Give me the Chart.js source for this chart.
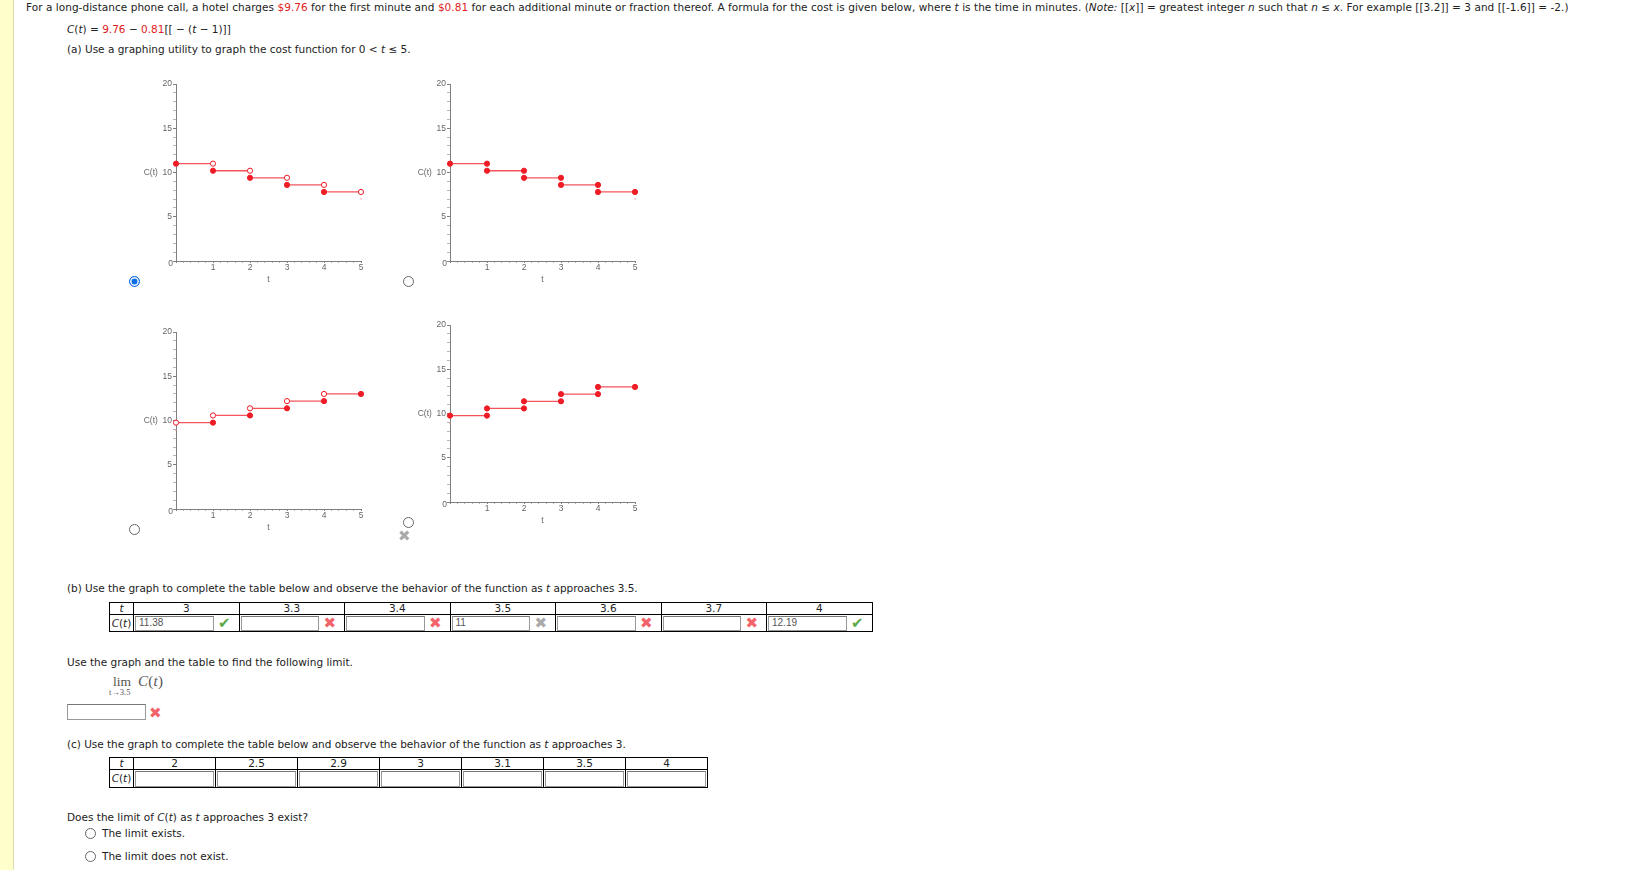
<!DOCTYPE html>
<html>
<head>
<meta charset="utf-8">
<title>Cost function</title>
<script src="https://cdn.jsdelivr.net/npm/chart.js@4"></script>
<style>
html, body { margin: 0; padding: 0; background: #fff; }
body { position: relative; width: 1645px; height: 870px; overflow: hidden; font-family: "DejaVu Sans", sans-serif; font-size: 10.5px; color: #222; }
.band { position: absolute; left: 0; top: 0; width: 13px; height: 870px; background: #ffffcc; border-right: 1px solid #dcdcb4; }
.txt { position: absolute; white-space: nowrap; line-height: 14px; }
.red { color: #e02020; }
i { font-style: italic; }
canvas { position: absolute; filter: blur(0.45px); }
.radio { position: absolute; width: 9px; height: 9px; border: 1px solid #666; border-radius: 50%; background: #fff; }
.radio.on { border: 1px solid #0a6fe8; width: 9px; height: 9px; background: #0a6fe8; box-shadow: inset 0 0 0 1.5px #fff; }
.mark { position: absolute; font-size: 15px; line-height: 15px; font-weight: bold; }
.bad { color: #f2646a; }
.good { color: #5aa84a; }
.gray { color: #aaa; }
table { position: absolute; border-collapse: collapse; table-layout: fixed; border: 1.5px solid #000; }
td { border: 1px solid #000; padding: 0; text-align: center; line-height: 11px; overflow: hidden; position: relative; }
.box { position: absolute; box-sizing: border-box; background: #fff; border: 1px solid #999; border-top-color: #777; font-family: "Liberation Sans", sans-serif; font-size: 10px; line-height: 12px; padding-left: 3px; text-align: left; color: #555; }
.lim { position: absolute; font-family: "Liberation Serif", serif; color: #555; white-space: nowrap; }
</style>
</head>
<body>
<div class="band"></div>

<div class="txt" style="left:26px;top:0px;letter-spacing:0.044px" id="topline">For a long-distance phone call, a hotel charges <span class="red">$9.76</span> for the first minute and <span class="red">$0.81</span> for each additional minute or fraction thereof. A formula for the cost is given below, where <i>t</i> is the time in minutes. (<i>Note:</i> [[<i>x</i>]] = greatest integer <i>n</i> such that <i>n</i> ≤ <i>x</i>. For example [[3.2]] = 3 and [[-1.6]] = -2.)</div>
<div class="txt" style="left:67px;top:22px"><i>C</i>(<i>t</i>) = <span class="red">9.76</span> − <span class="red">0.81</span>[[ − (<i>t</i> − 1)]]</div>
<div class="txt" style="left:67px;top:42px">(a) Use a graphing utility to graph the cost function for 0 &lt; <i>t</i> ≤ 5.</div>

<canvas id="chart1"></canvas>
<canvas id="chart2"></canvas>
<canvas id="chart3"></canvas>
<canvas id="chart4"></canvas>

<div class="radio on" style="left:129px;top:276px"></div>
<div class="radio" style="left:403px;top:276px"></div>
<div class="radio" style="left:129px;top:524px"></div>
<div class="radio" style="left:403px;top:517px"></div>
<div class="mark gray" style="left:398px;top:529px">✖</div>

<div class="txt" style="left:67px;top:581px;letter-spacing:-0.02px">(b) Use the graph to complete the table below and observe the behavior of the function as <i>t</i> approaches 3.5.</div>
<table id="tableB" style="left:109px;top:602px"></table>

<div class="txt" style="left:67px;top:655px">Use the graph and the table to find the following limit.</div>
<div class="lim" style="left:113px;top:674px;font-size:13.5px">lim</div>
<div class="lim" style="left:138px;top:673px;font-size:15px;letter-spacing:0.3px"><i>C</i>(<i>t</i>)</div>
<div class="lim" style="left:109px;top:687px;font-size:8.5px">t→3.5</div>
<div class="box" style="left:67px;top:704px;width:79px;height:16px"></div>
<div class="mark bad" style="left:149px;top:706px">✖</div>

<div class="txt" style="left:67px;top:737px;letter-spacing:-0.03px">(c) Use the graph to complete the table below and observe the behavior of the function as <i>t</i> approaches 3.</div>
<table id="tableC" style="left:109px;top:757px"></table>

<div class="txt" style="left:67px;top:810px">Does the limit of <i>C</i>(<i>t</i>) as <i>t</i> approaches 3 exist?</div>
<div class="radio" style="left:85px;top:828px"></div>
<div class="txt" style="left:102px;top:826px">The limit exists.</div>
<div class="radio" style="left:85px;top:851px"></div>
<div class="txt" style="left:102px;top:849px">The limit does not exist.</div>

<script>
// chart data
const stepStart = [0, 1, 2, 3, 4];
const stepEnd = [1, 2, 3, 4, 5];
const fallingCost = [11.0, 10.2, 9.4, 8.6, 7.8];
const risingCost = [9.76, 10.57, 11.38, 12.19, 13.0];
const strayFalling = [{ x: 5, y: 7.0 }];
const strayRising = [{ x: 0, y: 8.9 }];

// table data
const tableBHead = ['3', '3.3', '3.4', '3.5', '3.6', '3.7', '4'];
const tableBValues = ['11.38', '', '', '11', '', '', '12.19'];
const tableBMarks = ['good', 'bad', 'bad', 'gray', 'bad', 'bad', 'good'];
const tableCHead = ['2', '2.5', '2.9', '3', '3.1', '3.5', '4'];

const red = '#ee1c25';
const lineRed = '#f4555c';
const axisGray = '#808080';
const labelFont = { family: 'Liberation Sans', size: 8.5 };

// the 0 on the y axis sits a little under the axis line
const zeroLabel = {
  id: 'zeroLabel',
  afterDraw(chart) {
    const ctx = chart.ctx;
    const y = chart.scales.y;
    ctx.save();
    ctx.font = '8.5px "Liberation Sans"';
    ctx.fillStyle = '#666';
    ctx.textAlign = 'right';
    ctx.textBaseline = 'middle';
    ctx.fillText('0', y.right - 3, y.getPixelForValue(0) + 3);
    ctx.restore();
  }
};

function drawPanel(id, left, top, cost, openLeft, openRight, stray) {
  const plotLeft = 46, plotTop = 8, plotW = 185, plotH = 177, bottom = 24;
  const canvas = document.getElementById(id);
  canvas.width = plotLeft + plotW + 12;
  canvas.height = plotTop + plotH + bottom;
  canvas.style.left = (left - plotLeft) + 'px';
  canvas.style.top = (top - plotTop) + 'px';
  canvas.style.width = canvas.width + 'px';
  canvas.style.height = canvas.height + 'px';

  const datasets = stepStart.map((s, i) => ({
    data: [{ x: s, y: cost[i] }, { x: stepEnd[i], y: cost[i] }],
    showLine: true,
    borderColor: lineRed,
    borderWidth: 1.3,
    pointRadius: 2.6,
    pointBorderWidth: 1,
    pointBorderColor: red,
    pointBackgroundColor: [openLeft ? '#fff' : red, openRight ? '#fff' : red],
    clip: false
  }));
  datasets.push({
    data: stray,
    showLine: false,
    pointRadius: 0.7,
    pointBorderWidth: 0,
    pointBackgroundColor: '#f58a8e',
    clip: false
  });

  new Chart(canvas, {
    type: 'scatter',
    data: { datasets },
    plugins: [zeroLabel],
    options: {
      responsive: false,
      animation: false,
      devicePixelRatio: 1,
      layout: { padding: { left: 0, top: plotTop, right: 12, bottom: 0 } },
      plugins: { legend: { display: false }, tooltip: { enabled: false } },
      scales: {
        x: {
          type: 'linear',
          min: 0,
          max: 5,
          afterFit: (axis) => { axis.height = bottom; },
          afterBuildTicks: (axis) => { axis.ticks = axis.ticks.map(t => ({ value: Math.round(t.value * 10) / 10 })); },
          title: { display: true, text: 't', color: '#666', font: labelFont, padding: { top: 0, bottom: 0 } },
          border: { color: axisGray },
          grid: {
            drawOnChartArea: false,
            tickLength: 2,
            tickColor: (c) => Number.isInteger(c.tick.value) ? axisGray : '#b5b5b5'
          },
          ticks: {
            stepSize: 0.2,
            autoSkip: false,
            maxRotation: 0,
            padding: 0,
            color: '#666',
            font: labelFont,
            callback: (v) => (Number.isInteger(v) && v !== 0) ? String(v) : ''
          }
        },
        y: {
          min: 0,
          max: 20,
          afterFit: (axis) => { axis.width = plotLeft; },
          border: { color: axisGray },
          grid: {
            drawOnChartArea: false,
            tickLength: 3,
            tickColor: (c) => c.tick.value % 5 === 0 ? axisGray : '#b5b5b5'
          },
          ticks: {
            stepSize: 1,
            autoSkip: false,
            padding: 1,
            color: '#666',
            font: labelFont,
            callback: (v) => {
              if (v === 10) return 'C(t)  10';
              return (v % 5 === 0 && v !== 0) ? String(v) : '';
            }
          }
        }
      }
    }
  });
}

drawPanel('chart1', 176, 84, fallingCost, false, true, strayFalling);
drawPanel('chart2', 450, 84, fallingCost, false, false, strayFalling);
drawPanel('chart3', 176, 332, risingCost, true, false, strayRising);
drawPanel('chart4', 450, 325, risingCost, false, false, strayRising);

// answer tables
function buildTable(id, head, firstW, colW, rowH, values, marks) {
  const table = document.getElementById(id);
  let total = firstW + colW * head.length;
  table.style.width = total + 'px';

  let colgroup = document.createElement('colgroup');
  [firstW].concat(head.map(() => colW)).forEach(w => {
    let col = document.createElement('col');
    col.style.width = w + 'px';
    colgroup.appendChild(col);
  });
  table.appendChild(colgroup);

  let row1 = table.insertRow();
  row1.style.height = '12px';
  row1.insertCell().innerHTML = '<i>t</i>';
  head.forEach(h => { row1.insertCell().textContent = h; });

  let row2 = table.insertRow();
  row2.style.height = rowH + 'px';
  row2.insertCell().innerHTML = '<i>C</i>(<i>t</i>)';
  head.forEach((h, i) => {
    let cell = row2.insertCell();
    let box = document.createElement('div');
    box.className = 'box';
    box.style.left = '1px';
    box.style.top = '1px';
    box.style.height = (rowH - 2) + 'px';
    box.style.width = (marks ? colW - 27 : colW - 3) + 'px';
    box.textContent = values ? values[i] : '';
    cell.appendChild(box);
    if (marks) {
      let mark = document.createElement('div');
      mark.className = 'mark ' + marks[i];
      mark.style.right = '8px';
      mark.style.top = '1px';
      mark.textContent = marks[i] === 'good' ? '✔' : '✖';
      cell.appendChild(mark);
    }
  });
}

buildTable('tableB', tableBHead, 24, 105.5, 17, tableBValues, tableBMarks);
buildTable('tableC', tableCHead, 24, 82, 18, null, null);
</script>
</body>
</html>
